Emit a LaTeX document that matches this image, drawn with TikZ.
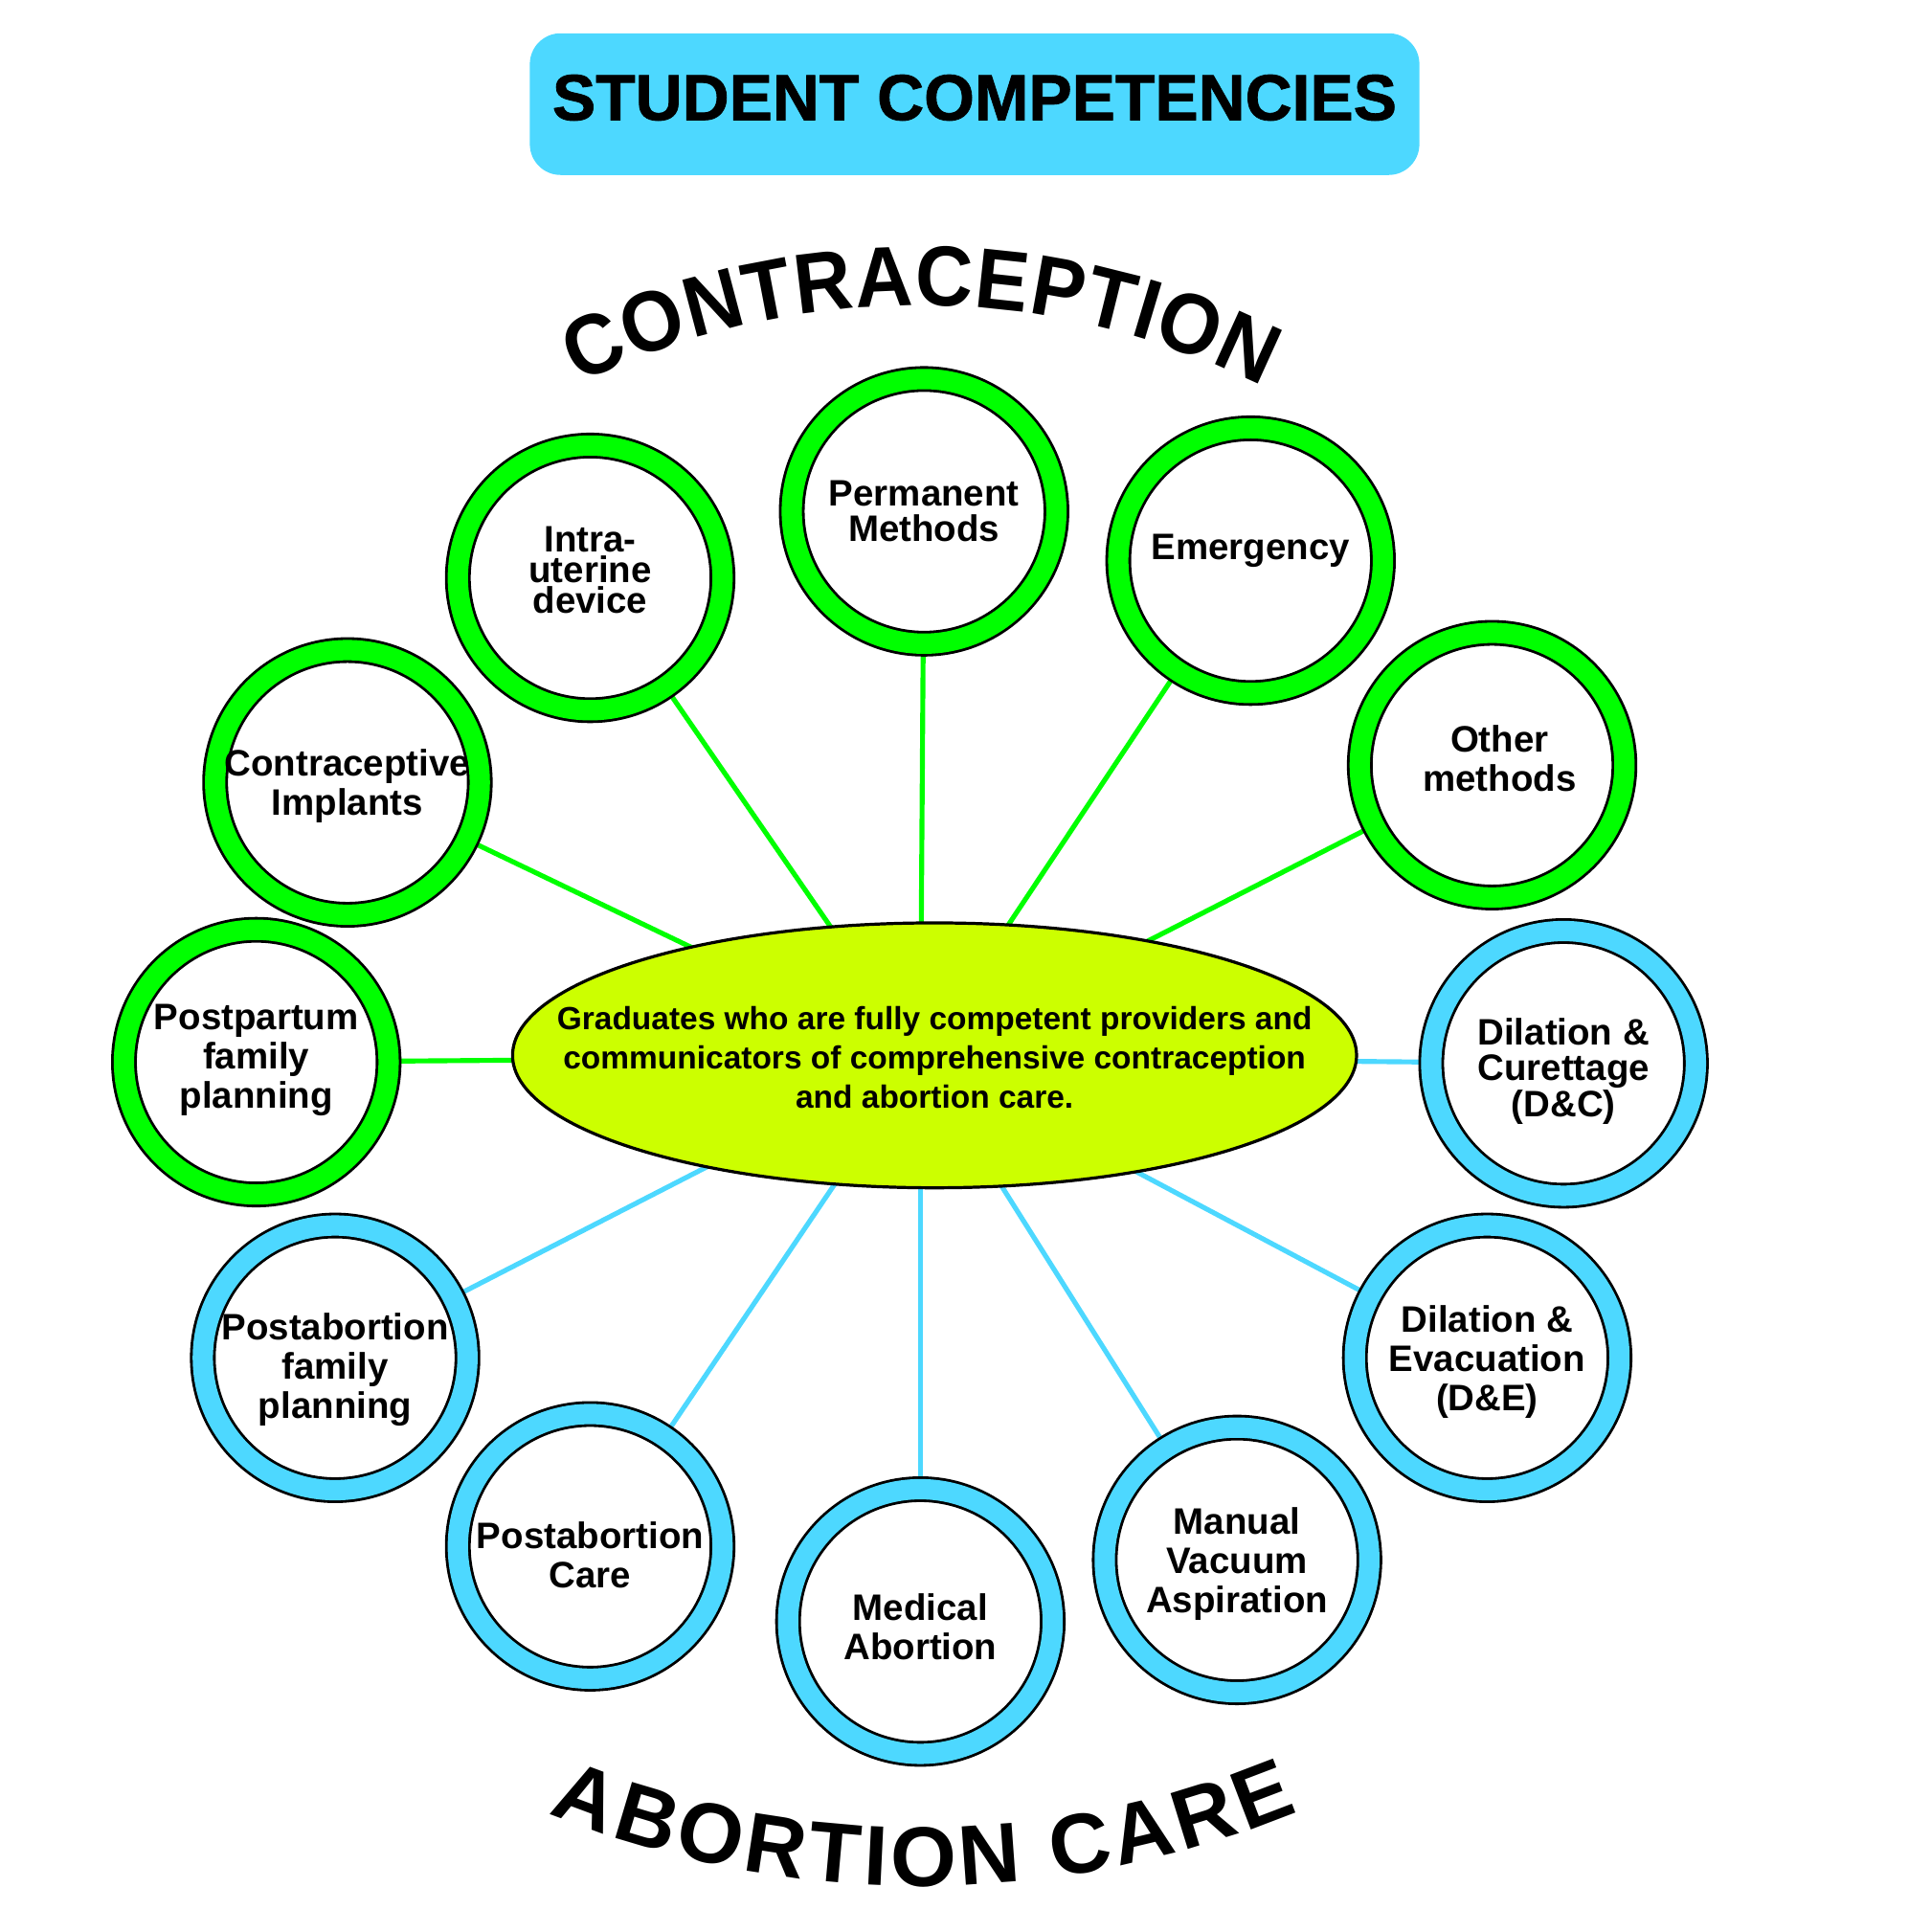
\documentclass[tikz,border=0pt]{standalone}
\usepackage{fontspec}
\setmainfont{Liberation Sans}
\newfontfamily\heavyfamily{Liberation Sans}[FakeBold=1.2]
\newfontfamily\narrowfamily{Liberation Sans}[FakeStretch=0.935]
\usepackage{tikz}
\usetikzlibrary{shapes.geometric,decorations.text,backgrounds}

\definecolor{ringgreen}{RGB}{0,255,0}
\definecolor{ringblue}{RGB}{77,216,255}
\definecolor{goalyellow}{RGB}{204,255,0}

\newcommand{\titlefont}{\heavyfamily\fontsize{15pt}{18pt}\selectfont\bfseries}
\newcommand{\ringfont}{\fontsize{8.5pt}{9.1pt}\selectfont\bfseries}
\newcommand{\goalfont}{\fontsize{7.4pt}{9.1pt}\selectfont\bfseries}
\newcommand{\contrafont}{\narrowfamily\fontsize{19.7pt}{24pt}\selectfont\bfseries}
\newcommand{\arcfont}{\fontsize{19.6pt}{24pt}\selectfont\bfseries}

\tikzset{
  ringnode/.style={circle, draw=black, line width=0.22mm, double distance=1.65mm,
    fill=white, minimum size=21.48mm, inner sep=0pt, align=center,
    font=\ringfont, text depth=0pt},
  greenring/.style={ringnode, double=ringgreen},
  bluering/.style={ringnode, double=ringblue},
  titlebox/.style={rectangle, rounded corners=2.5mm, fill=ringblue,
    minimum width=72.2mm, minimum height=11.5mm, inner sep=0pt,
    text depth=1.1mm, font=\titlefont},
  goalell/.style={ellipse, draw=black, line width=0.25mm, fill=goalyellow,
    minimum width=68.5mm, minimum height=21.5mm, inner sep=0pt}
}

\begin{document}
\begin{tikzpicture}[x=0.1mm, y=0.1mm,
    greenlink/.style={draw=ringgreen, line width=0.4mm},
    bluelink/.style={draw=ringblue, line width=0.4mm}]
    \useasboundingbox (0,0) rectangle (1567,-1568);

    % Titel
    \node (title) at (791,-84.5) [titlebox] {STUDENT COMPETENCIES};

    % Boegen
    \coordinate (topc) at (745,-875);
    \coordinate (botc) at (747.5,-731);
    \path[decorate, decoration={text along path, text={|\contrafont|CONTRACEPTION}, text align={fit to path}}]
      (topc) ++(116:627) arc[start angle=116, end angle=63.5, radius=627];
    \path[decorate, decoration={text along path, text={|\arcfont|ABORTION CARE}, text align={fit to path}}]
      (botc) ++(247.8:800) arc[start angle=247.8, end angle=292.5, radius=800];

    % Ziel
    \node (goal) at (758.5,-856.5) [goalell] {};
    \node (goaltext) at (758.5,-858) [font=\goalfont, align=center, text depth=0pt]
      {Graduates who are fully competent providers and\\communicators of comprehensive contraception\\and abortion care.};
    \coordinate (hub) at (747,-858);

    % Contraception
    \node (perm) at (750,-415) [greenring] {Permanent\\[-0.9pt]Methods};
    \node (emerg) at (1015,-455) [greenring, text depth=2.2mm] {Emergency};
    \node (other) at (1211,-621) [greenring, text depth=1.1mm] {\hspace{1.2mm}Other\\\hspace{1.2mm}methods};
    \node (iud) at (479,-469) [greenring, text depth=1.3mm] {Intra-\\[-2pt]uterine\\[-2pt]device};
    \node (impl) at (282,-635) [greenring] {Contraceptive\\Implants};
    \node (postp) at (208,-862) [greenring, text depth=1mm] {Postpartum\\family\\planning};

    % Abortion care
    \node (dc) at (1269,-863) [bluering, text height=8.6mm] {Dilation \&\\[-0.9pt]Curettage\\[-0.9pt](D\&C)};
    \node (de) at (1207,-1102) [bluering] {Dilation \&\\Evacuation\\(D\&E)};
    \node (mva) at (1004,-1266) [bluering] {Manual\\Vacuum\\Aspiration};
    \node (med) at (747,-1316) [bluering, text height=6.2mm] {Medical\\Abortion};
    \node (pac) at (479,-1255) [bluering, text height=6.7mm] {Postabortion\\Care};
    \node (pafp) at (272,-1102) [bluering, text height=9.9mm] {Postabortion\\family\\planning};

    \begin{pgfonlayer}{background}
      \foreach \n in {perm,emerg,other,iud,impl,postp}
        \draw[greenlink] (\n) -- (hub);
      \foreach \n in {dc,de,mva,med,pac,pafp}
        \draw[bluelink] (\n) -- (hub);
    \end{pgfonlayer}
\end{tikzpicture}
\end{document}
